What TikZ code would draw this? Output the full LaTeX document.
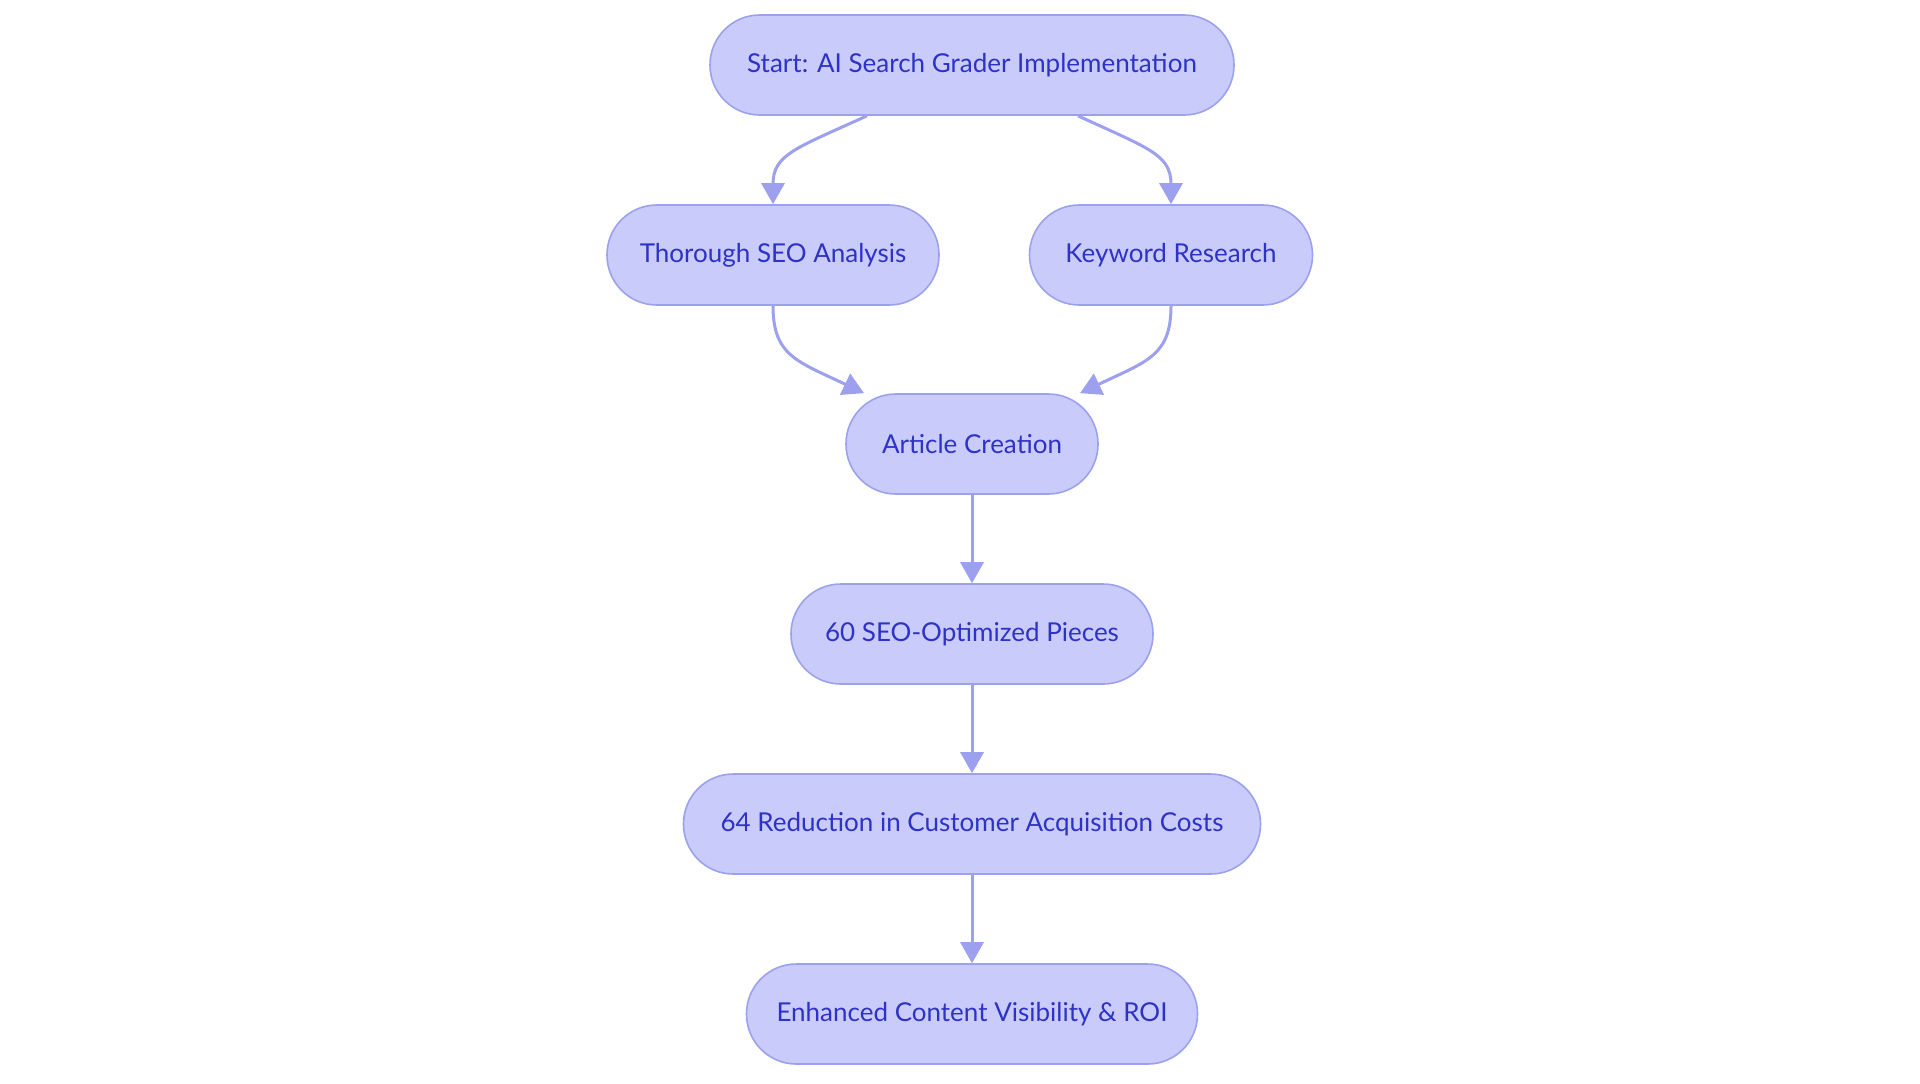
\documentclass[tikz,border=0pt]{standalone}
\usepackage{fontspec}
\setmainfont{Lato}
\usetikzlibrary{arrows.meta,calc}
\definecolor{boxfill}{HTML}{C9CBFB}
\definecolor{boxline}{HTML}{9CA1EE}
\definecolor{boxtext}{HTML}{2E32C6}
\definecolor{edgecol}{HTML}{9CA0EE}
\tikzset{
  stepbox/.style={draw=boxline, line width=0.8pt, fill=boxfill, text=boxtext,
    rectangle, rounded corners=24.9pt, minimum height=50pt, inner sep=0pt,
    font=\fontsize{13pt}{15pt}\selectfont},
  flow/.style={draw=edgecol, line width=1.5pt,
    -{Triangle[length=10.5pt,width=11.5pt]}}
}
\begin{document}
\begin{tikzpicture}[x=0.5pt,y=-0.5pt]
\useasboundingbox (0,0) rectangle (1920,1083);
\node[stepbox, minimum width=262pt] (start) at (972,65) {Start: AI Search Grader Implementation};
\node[stepbox, minimum width=166pt] (seo) at (773,255) {Thorough SEO Analysis};
\node[stepbox, minimum width=141.5pt] (kw) at (1171,255) {Keyword Research};
\node[stepbox, minimum width=126pt] (art) at (972,444) {Article Creation};
\node[stepbox, minimum width=181pt] (pcs) at (972,634) {60 SEO-Optimized Pieces};
\node[stepbox, minimum width=288.5pt] (red) at (972,824) {64 Reduction in Customer Acquisition Costs};
\node[stepbox, minimum width=225.5pt] (enh) at (972,1014) {Enhanced Content Visibility \& ROI};

\draw[flow] ($(start.south)+(-105,0)$) .. controls ($(start.south)+(-175,32)$) and ($(seo.north)+(0,-50)$) .. (seo.north);
\draw[flow] ($(start.south)+(106,0)$) .. controls ($(start.south)+(175,32)$) and ($(kw.north)+(0,-50)$) .. (kw.north);
\draw[flow] (seo.south) .. controls ($(seo.south)+(0,50)$) and ($(art.north)+(-175,-32)$) .. ($(art.north)+(-108,0)$);
\draw[flow] (kw.south) .. controls ($(kw.south)+(0,50)$) and ($(art.north)+(175,-32)$) .. ($(art.north)+(108,0)$);
\draw[flow] (art) -- (pcs);
\draw[flow] (pcs) -- (red);
\draw[flow] (red) -- (enh);
\end{tikzpicture}
\end{document}
